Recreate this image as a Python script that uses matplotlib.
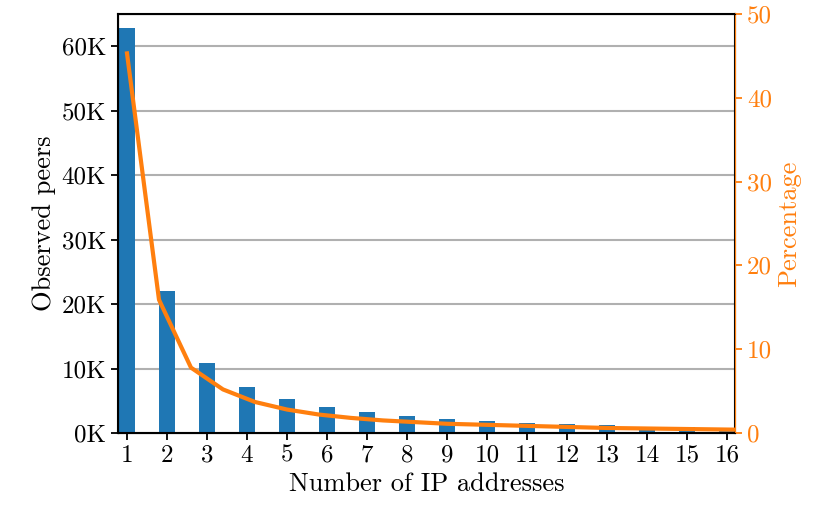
import matplotlib
matplotlib.use("Agg")
import matplotlib.pyplot as plt
import numpy as np

plt.rcParams['font.family'] = 'serif'
plt.rcParams['font.serif'] = ['cmr10']
plt.rcParams['mathtext.fontset'] = 'cm'
plt.rcParams['axes.unicode_minus'] = False

ip_counts = list(range(1, 17))
peers = [62800, 22000, 10850, 7100, 5300, 4000, 3200, 2600, 2200, 1800,
         1500, 1350, 1200, 1000, 900, 800]
percentage = [45.3, 15.9, 7.8, 5.2, 3.7, 2.8, 2.2, 1.8, 1.5, 1.3,
              1.1, 1.0, 0.9, 0.8, 0.7, 0.6, 0.55, 0.5, 0.45, 0.4]
left_ticks = [0, 10000, 20000, 30000, 40000, 50000, 60000]
left_labels = ['0K', '10K', '20K', '30K', '40K', '50K', '60K']

orange = '#ff7f0e'
fig = plt.figure(figsize=(8.29, 5.23), dpi=100)
ax = fig.add_axes([118/829, 1-433/523, (735-118)/829, (433-14)/523])
ax.set_axisbelow(True)
ax.yaxis.grid(True, color='#b0b0b0', linewidth=1.5)
ax.bar(ip_counts, peers, width=0.38, color='#1f77b4')
ax.set_xlim(0.775, 16.2)
ax.set_ylim(0, 65000)
ax.set_xticks(ip_counts)
ax.set_yticks(left_ticks)
ax.set_yticklabels(left_labels)
ax.tick_params(labelsize=18, width=1.3, length=5)
ax.set_xlabel('Number of IP addresses', fontsize=19)
ax.set_ylabel('Observed peers', fontsize=19)
for s in ax.spines.values():
    s.set_linewidth(1.5)

ax2 = ax.twinx()
xl = np.linspace(1, 16.2, len(percentage))
ax2.plot(xl, percentage, color=orange, linewidth=3)
ax2.set_ylim(0, 50)
ax2.set_yticks([0, 10, 20, 30, 40, 50])
ax2.tick_params(axis='y', colors=orange, labelsize=18, width=1.3, length=5)
ax2.spines['right'].set_color(orange)
ax2.set_ylabel('Percentage', color=orange, fontsize=19)
fig.savefig('out.png', dpi=100)
